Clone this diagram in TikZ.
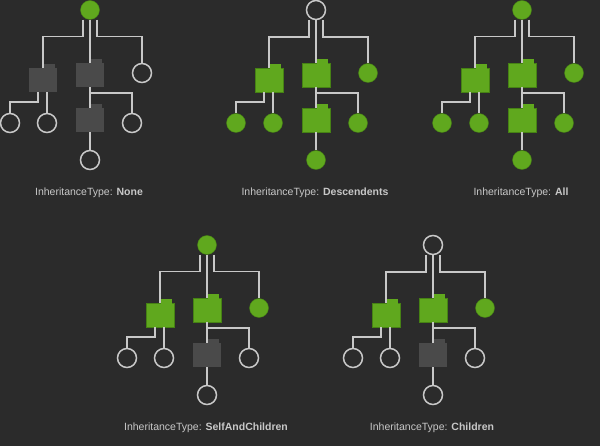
\documentclass[tikz,border=0pt]{standalone}
\usepackage{fontspec}
\setmainfont{Liberation Sans}
\usetikzlibrary{positioning,calc}
\definecolor{mybg}{RGB}{43,43,43}
\definecolor{mygreen}{RGB}{96,168,30}
\definecolor{mydgreen}{RGB}{70,130,20}
\definecolor{mygrey}{RGB}{74,74,74}
\definecolor{myline}{RGB}{200,200,200}
\tikzset{
	onnode/.style={circle,draw=mydgreen,fill=mygreen,minimum size=19pt,inner sep=0pt},
	offnode/.style={circle,draw=myline,fill=mybg,line width=1.5pt,minimum size=19pt,inner sep=0pt},
	onfolder/.style={rectangle,draw=mydgreen,fill=mygreen,minimum width=28pt,minimum height=24pt,inner sep=0pt},
	offfolder/.style={rectangle,fill=mygrey,minimum width=28pt,minimum height=24pt,inner sep=0pt},
	link/.style={draw=myline,line width=1.6pt},
	caption/.style={text=myline,font=\fontsize{10.5}{12}\selectfont}
}
% tab on top of a folder
\newcommand{\foldertab}[2]{\fill[#2] ($(#1.north east)+(-13,1)$) rectangle ($(#1.north east)+(-2,-4)$);}
% #1 prefix, #2 root x, #3 root y, #4 root, #5 folders, #6 right, #7 lower folder, #8 leaves, #9 caption
\newcommand{\drawtree}[9]{
	\node[#4] (#1r) at (#2,#3) {};
	\node[#5] (#1f1) at ($(#1r)+(-47,70)$) {};
	\node[#5] (#1f2) at ($(#1r)+(0,65)$) {};
	\node[#6] (#1c) at ($(#1r)+(52,63)$) {};
	\node[#7] (#1f3) at ($(#1r)+(0,110)$) {};
	\node[#8] (#1l1) at ($(#1r)+(-80,113)$) {};
	\node[#8] (#1l2) at ($(#1r)+(-43,113)$) {};
	\node[#8] (#1l3) at ($(#1r)+(42,113)$) {};
	\node[#8] (#1l4) at ($(#1r)+(0,150)$) {};
	\node[caption] (#1t) at ($(#1r)+(-1,183)$) {#9};
	\draw[link] ([xshift=-7pt]#1r.south) -- ++(0,17) -| (#1f1.north);
	\draw[link] (#1r.south) -- (#1f2.north);
	\draw[link] ([xshift=7pt]#1r.south) -- ++(0,17) -| (#1c.north);
	\draw[link] ([xshift=-5pt]#1f1.south) -- ++(0,10) -| (#1l1.north);
	\draw[link] (#1l2.north |- #1f1.south) -- (#1l2.north);
	\draw[link] (#1f2.south) -- (#1f3.north);
	\draw[link] ([yshift=-6pt]#1f2.south) -| (#1l3.north);
	\draw[link] (#1f3.south) -- (#1l4.north);
}
\begin{document}
\begin{tikzpicture}[x=1pt,y=-1pt]
	\fill[mybg] (0,0) rectangle (600,446);
	\useasboundingbox (0,0) rectangle (600,446);
	% top row
	\drawtree{a}{90}{10}{onnode}{offfolder}{offnode}{offfolder}{offnode}{InheritanceType: \textbf{None}}
	\drawtree{b}{316}{10}{offnode}{onfolder}{onnode}{onfolder}{onnode}{InheritanceType: \textbf{Descendents}}
	\drawtree{c}{522}{10}{onnode}{onfolder}{onnode}{onfolder}{onnode}{InheritanceType: \textbf{All}}
	% bottom row
	\drawtree{d}{207}{245}{onnode}{onfolder}{onnode}{offfolder}{offnode}{InheritanceType: \textbf{SelfAndChildren}}
	\drawtree{e}{433}{245}{offnode}{onfolder}{onnode}{offfolder}{offnode}{InheritanceType: \textbf{Children}}
	% folder tabs
	\foreach \p/\s in {a/mygrey,b/mygreen,c/mygreen,d/mygreen,e/mygreen}{
		\foldertab{\p f1}{\s}
		\foldertab{\p f2}{\s}
	}
	\foreach \p/\s in {a/mygrey,b/mygreen,c/mygreen,d/mygrey,e/mygrey}{
		\foldertab{\p f3}{\s}
	}
\end{tikzpicture}
\end{document}
